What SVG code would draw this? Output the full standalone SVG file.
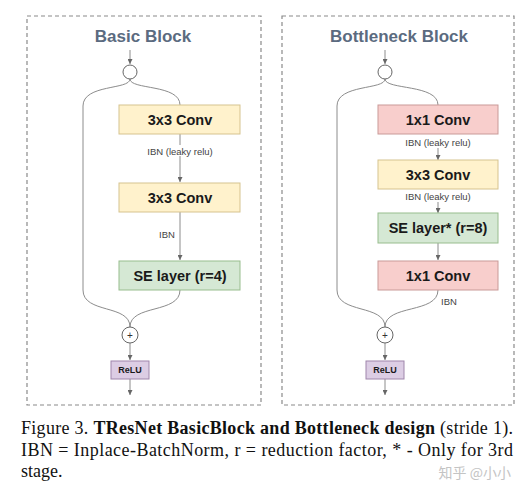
<svg xmlns="http://www.w3.org/2000/svg" width="526" height="495" viewBox="0 0 526 495">
<style>
.frame{fill:none;stroke:#8a8a8a;stroke-width:1.2;stroke-dasharray:4 3}
.title{font-family:"Liberation Sans",Arial,sans-serif;font-weight:bold;font-size:17px;fill:#5b6b80;text-anchor:middle}
.box text{font-family:"Liberation Sans",Arial,sans-serif;font-weight:bold;font-size:14.5px;fill:#1a1a1a;text-anchor:middle}
.conv3 rect{fill:#fff2cc;stroke:#d6c38f;stroke-width:1}
.conv1 rect{fill:#f8cecc;stroke:#c99a98;stroke-width:1}
.se rect{fill:#d5e8d4;stroke:#98bd8e;stroke-width:1}
.relu rect{fill:#dccde4;stroke:#9f86ab;stroke-width:1}
.relu text{font-size:9px}
.node circle{fill:#fff;stroke:#666;stroke-width:1}
.lbl{font-family:"Liberation Sans",Arial,sans-serif;font-size:9.5px;fill:#444}
.edge{fill:none;stroke:#8c8c8c;stroke-width:1}
.cap{font-family:"Liberation Serif","Times New Roman",serif;font-size:18px;fill:#111}
</style>
<defs>
<marker id="ar" viewBox="0 0 10 10" refX="10" refY="5" markerWidth="5" markerHeight="5" orient="auto" markerUnits="userSpaceOnUse">
<path d="M0,0 L10,5 L0,10 z" fill="#666"/>
</marker>
</defs>
<rect width="526" height="495" fill="#fff"/>
<rect class="frame" x="27" y="16" width="234" height="389"/>
<rect class="frame" x="282" y="16" width="232" height="389"/>
<text class="title" x="143" y="42">Basic Block</text>
<text class="title" x="399" y="42">Bottleneck Block</text>

<g id="connectors">
<path class="edge" d="M130,50 L130,64" marker-end="url(#ar)"/>
<path class="edge" d="M130,79 C130,90 83,84 83,106 L83,290 C83,314 130,304 130,327"/>
<path class="edge" d="M130,79 C130,90 180,84 180,105"/>
<path class="edge" d="M180,134 L180,182" marker-end="url(#ar)"/>
<path class="edge" d="M180,212 L180,260" marker-end="url(#ar)"/>
<path class="edge" d="M180,290 C180,314 130,304 130,327"/>
<path class="edge" d="M130,343 L130,360" marker-end="url(#ar)"/>
<path class="edge" d="M130,379 L130,395" marker-end="url(#ar)"/>
<path class="edge" d="M385,50 L385,64" marker-end="url(#ar)"/>
<path class="edge" d="M385,79 C385,90 337,84 337,106 L337,290 C337,314 385,304 385,327"/>
<path class="edge" d="M385,79 C385,90 438,84 438,105"/>
<path class="edge" d="M438,148 L438,160" marker-end="url(#ar)"/>
<path class="edge" d="M438,202 L438,213" marker-end="url(#ar)"/>
<path class="edge" d="M438,243 L438,260" marker-end="url(#ar)"/>
<path class="edge" d="M438,290 C438,314 385,304 385,327"/>
<path class="edge" d="M385,343 L385,360" marker-end="url(#ar)"/>
<path class="edge" d="M385,379 L385,395" marker-end="url(#ar)"/>
</g>

<g id="edge-labels">
<rect x="140" y="145" width="80" height="11" fill="#fff"/>
<text class="lbl" x="180" y="155" text-anchor="middle">IBN (leaky relu)</text>
<rect x="156" y="229" width="22" height="11" fill="#fff"/>
<text class="lbl" x="167" y="238" text-anchor="middle">IBN</text>
<text class="lbl" x="438" y="146" text-anchor="middle">IBN (leaky relu)</text>
<text class="lbl" x="438" y="200" text-anchor="middle">IBN (leaky relu)</text>
<text class="lbl" x="449" y="305" text-anchor="middle">IBN</text>
</g>

<g id="split-basic" class="node"><circle cx="130" cy="72" r="7"/></g>
<g id="b-conv1" class="box conv3"><rect x="119" y="105" width="121" height="29"/><text x="180" y="125">3x3 Conv</text></g>
<g id="b-conv2" class="box conv3"><rect x="119" y="183" width="121" height="29"/><text x="180" y="203">3x3 Conv</text></g>
<g id="b-se" class="box se"><rect x="119" y="261" width="121" height="29"/><text x="180" y="281">SE layer (r=4)</text></g>
<g id="add-basic" class="node"><circle cx="130" cy="335" r="8"/><text x="130" y="339" text-anchor="middle" font-family="Liberation Sans,Arial,sans-serif" font-size="10" fill="#333">+</text></g>
<g id="b-relu" class="box relu"><rect x="111" y="361" width="38" height="18"/><text x="130" y="373">ReLU</text></g>

<g id="split-bottleneck" class="node"><circle cx="385" cy="72" r="7"/></g>
<g id="n-conv1" class="box conv1"><rect x="378" y="105" width="120" height="29"/><text x="438" y="125">1x1 Conv</text></g>
<g id="n-conv2" class="box conv3"><rect x="378" y="160" width="120" height="29"/><text x="438" y="180">3x3 Conv</text></g>
<g id="n-se" class="box se"><rect x="378" y="213" width="120" height="30"/><text x="438" y="233">SE layer* (r=8)</text></g>
<g id="n-conv3" class="box conv1"><rect x="378" y="261" width="120" height="29"/><text x="438" y="281">1x1 Conv</text></g>
<g id="add-bottleneck" class="node"><circle cx="385" cy="335" r="8"/><text x="385" y="339" text-anchor="middle" font-family="Liberation Sans,Arial,sans-serif" font-size="10" fill="#333">+</text></g>
<g id="n-relu" class="box relu"><rect x="366" y="361" width="38" height="18"/><text x="385" y="373">ReLU</text></g>

<g id="caption">
<text class="cap" x="21" y="434" textLength="492" lengthAdjust="spacing">Figure 3. <tspan font-weight="bold">TResNet BasicBlock and Bottleneck design</tspan> (stride 1).</text>
<text class="cap" x="21" y="456" textLength="492" lengthAdjust="spacing">IBN = Inplace-BatchNorm, r = reduction factor, * - Only for 3rd</text>
<text class="cap" x="21" y="477">stage.</text>
<text x="511" y="478" text-anchor="end" font-family="Noto Sans CJK SC,sans-serif" font-size="14" fill="#c4c4c4">知乎 @小小</text>
</g>
</svg>
